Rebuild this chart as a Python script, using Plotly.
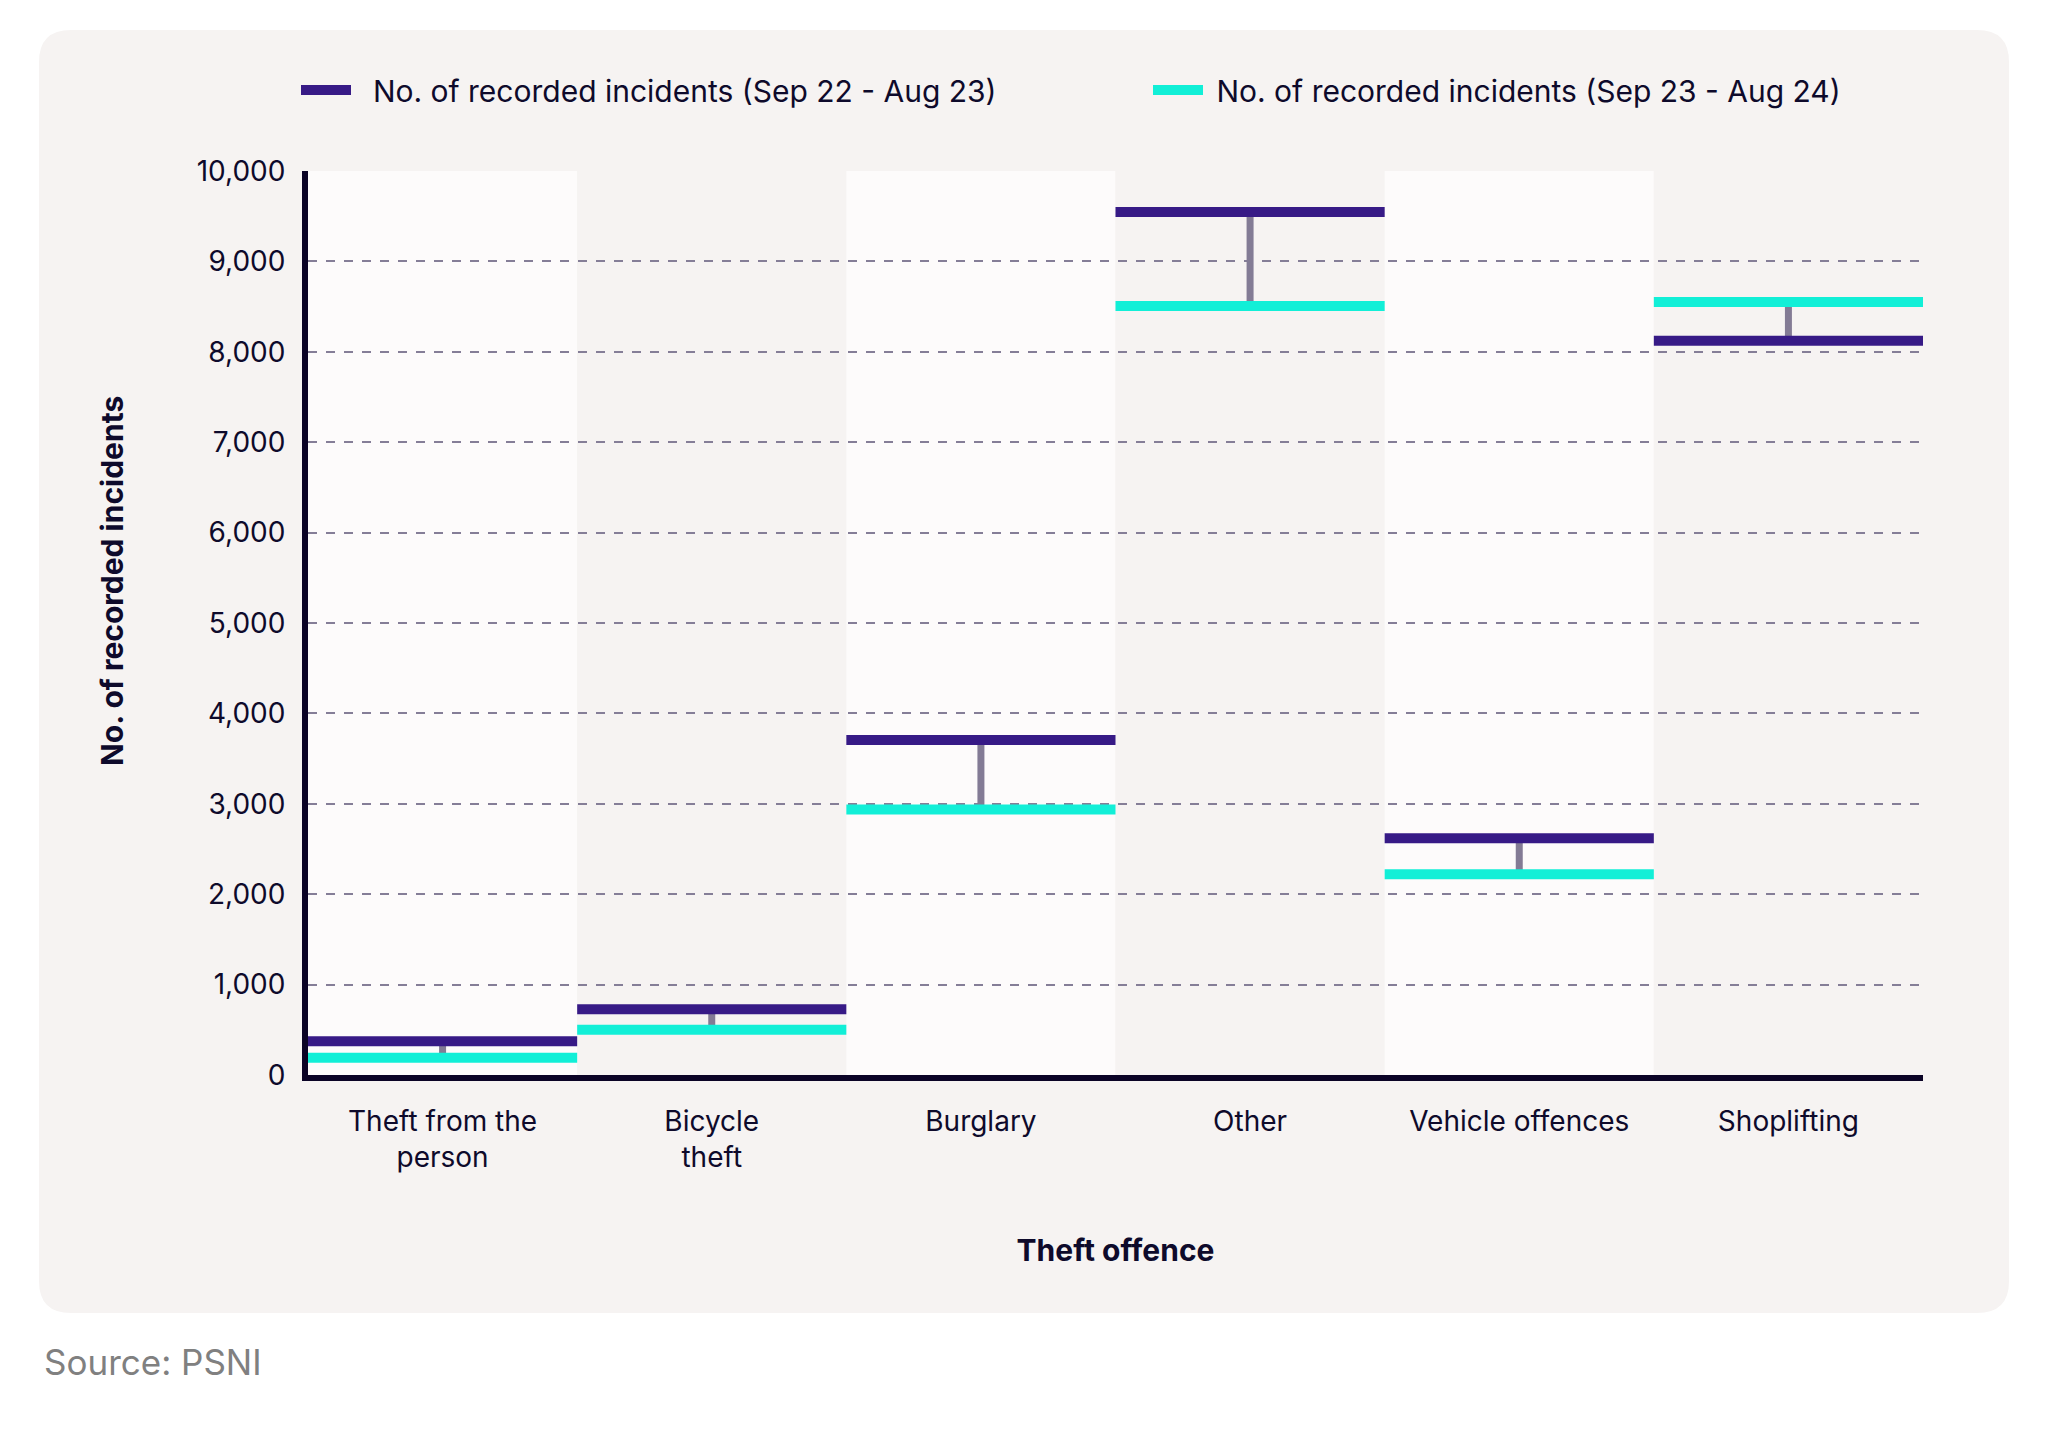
import plotly.graph_objects as go

categories = ["Theft from the<br>person", "Bicycle<br>theft", "Burglary", "Other", "Vehicle offences", "Shoplifting"]
series_names = ["No. of recorded incidents (Sep 22 - Aug 23)", "No. of recorded incidents (Sep 23 - Aug 24)"]
values_2223 = [372, 727, 3706, 9546, 2619, 8123]
values_2324 = [190, 500, 2937, 8506, 2220, 8550]
y_ticks = [0, 1000, 2000, 3000, 4000, 5000, 6000, 7000, 8000, 9000, 10000]

W, H = 2048, 1447
L, R, T, B = 300, 1915, 163, 1067
PW, PH = R - L, B - T

PURPLE = "#371a86"
CYAN = "#12efd7"
CONNECT = "#837b95"
CARD = "#f6f3f2"
LIGHT = "#fdfbfb"
GRID = "#857e97"
TEXT = "#0e0a2b"
AXIS = "#0b0326"
FONT = "Inter"


def px(x):
    return (x - L) / PW


def py(y):
    return (B - y) / PH


xs = list(range(len(categories)))

fig = go.Figure()

# connectors between the two periods
cx, cy = [], []
for i, (a, b) in enumerate(zip(values_2223, values_2324)):
    cx += [i, i, None]
    cy += [a, b, None]
fig.add_trace(go.Scatter(x=cx, y=cy, mode="lines", line=dict(color=CONNECT, width=7),
                         showlegend=False, hoverinfo="skip"))


def seg(vals):
    sx, sy = [], []
    for i, v in enumerate(vals):
        sx += [i - 0.5, i + 0.5, None]
        sy += [v, v, None]
    return sx, sy


sx, sy = seg(values_2324)
fig.add_trace(go.Scatter(x=sx, y=sy, mode="lines", name="\u00a0" + series_names[1],
                         line=dict(color=CYAN, width=10)))
sx, sy = seg(values_2223)
fig.add_trace(go.Scatter(x=sx, y=sy, mode="lines", name="\u00a0\u00a0" + series_names[0],
                         line=dict(color=PURPLE, width=10)))

shapes = []
# card background
x0, x1, y0, y1, r = 31, 2001, 22, 1305, 32
path = (f"M{px(x0+r)},{py(y0)} L{px(x1-r)},{py(y0)} Q{px(x1)},{py(y0)} {px(x1)},{py(y0+r)} "
        f"L{px(x1)},{py(y1-r)} Q{px(x1)},{py(y1)} {px(x1-r)},{py(y1)} "
        f"L{px(x0+r)},{py(y1)} Q{px(x0)},{py(y1)} {px(x0)},{py(y1-r)} "
        f"L{px(x0)},{py(y0+r)} Q{px(x0)},{py(y0)} {px(x0+r)},{py(y0)} Z")
shapes.append(dict(type="path", xref="paper", yref="paper", path=path,
                   fillcolor=CARD, line=dict(width=0), layer="below"))
for i in xs:
    shapes.append(dict(type="rect", xref="x", yref="paper", x0=i - 0.5, x1=i + 0.5, y0=0, y1=1,
                       fillcolor=LIGHT if i % 2 == 0 else CARD, line=dict(width=0), layer="below"))

fig.update_layout(
    width=W, height=H,
    margin=dict(l=L, r=W - R, t=T, b=H - B, autoexpand=False),
    paper_bgcolor="white", plot_bgcolor="rgba(0,0,0,0)",
    font=dict(family=FONT, color=TEXT, size=28),
    shapes=shapes,
    showlegend=True,
    legend=dict(orientation="h", x=px(288), xanchor="left", y=py(82), yanchor="middle",
                font=dict(size=30, color=TEXT), bgcolor="rgba(0,0,0,0)",
                entrywidth=787, entrywidthmode="pixels", traceorder="reversed", itemwidth=50),
    xaxis=dict(range=[-0.5, 5.5], tickvals=xs, ticktext=categories, showgrid=False,
               showline=True, linecolor=AXIS, linewidth=6, zeroline=False,
               ticks="", tickfont=dict(size=28, color=TEXT), ticklabelstandoff=16,
               title=dict(text="<b>Theft offence</b>", font=dict(size=30, color=TEXT), standoff=69)),
    yaxis=dict(range=[0, 10000], tickvals=y_ticks, tickformat=",d", showgrid=True,
               gridcolor=GRID, griddash="dash", gridwidth=2, zeroline=False,
               showline=True, linecolor=AXIS, linewidth=6, ticks="",
               tickfont=dict(size=28, color=TEXT), ticklabelstandoff=11),
    annotations=[
        dict(text="<b>No. of recorded incidents</b>", xref="paper", yref="paper",
             x=px(104), y=py(573), xanchor="center", yanchor="middle", textangle=-90,
             showarrow=False, font=dict(size=30, color=TEXT, family=FONT)),
        dict(text="Source: PSNI", xref="paper", yref="paper", x=px(34), y=py(1354),
             xanchor="left", yanchor="middle", showarrow=False,
             font=dict(size=35, color="#808080", family=FONT)),
    ],
)

fig.write_html("out.html")
